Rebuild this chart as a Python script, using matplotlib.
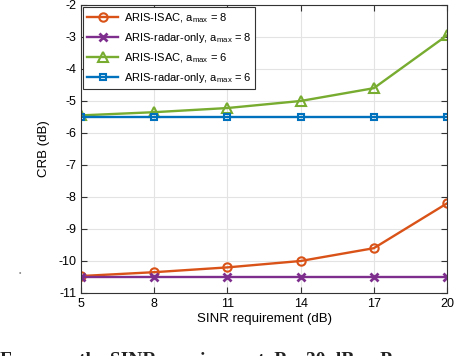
import matplotlib
matplotlib.use("Agg")
import matplotlib.pyplot as plt

plt.rcParams['font.family'] = ['Liberation Sans', 'DejaVu Sans']
plt.rcParams['axes.unicode_minus'] = False
plt.rcParams['mathtext.fontset'] = 'custom'
plt.rcParams['mathtext.rm'] = 'Liberation Sans'

sinr = [5, 8, 11, 14, 17, 20]
isac_a8 = [-10.47, -10.35, -10.2, -10.0, -9.6, -8.2]
radar_a8 = [-10.5, -10.5, -10.5, -10.5, -10.5, -10.5]
isac_a6 = [-5.45, -5.35, -5.22, -5.0, -4.6, -2.95]
radar_a6 = [-5.5, -5.5, -5.5, -5.5, -5.5, -5.5]
labels = [r'ARIS-ISAC, a$_{\mathrm{max}}$ = 8',
          r'ARIS-radar-only, a$_{\mathrm{max}}$ = 8',
          r'ARIS-ISAC, a$_{\mathrm{max}}$ = 6',
          r'ARIS-radar-only, a$_{\mathrm{max}}$ = 6']

fig = plt.figure(figsize=(4.74, 3.56), dpi=100)
ax = fig.add_axes([0.171, 0.177, 0.772, 0.809])

ax.plot(sinr, isac_a8, color='#D95319', marker='o', ms=6, mfc='none', mew=1.5, lw=1.7, label=labels[0])
ax.plot(sinr, radar_a8, color='#7E2F8E', marker='x', ms=6, mew=2, lw=1.7, label=labels[1])
ax.plot(sinr, isac_a6, color='#77AC30', marker='^', ms=7, mfc='none', mew=1.5, lw=1.7, label=labels[2])
ax.plot(sinr, radar_a6, color='#0072BD', marker='s', ms=5, mfc='none', mew=1.5, lw=1.7, label=labels[3])

ax.set_xlim(5, 20)
ax.set_ylim(-11, -2)
ax.set_xticks(sinr)
ax.set_yticks(range(-11, -1))
ax.grid(True, color='#e3e3e3', lw=0.8)
ax.tick_params(direction='in', top=True, right=True, labelsize=9, length=4, color='#333333')
for s in ax.spines.values():
    s.set_color('#333333')
    s.set_linewidth(0.8)
ax.set_xlabel('SINR requirement (dB)', fontsize=9.5, labelpad=2)
ax.set_ylabel('CRB (dB)', fontsize=9.5, labelpad=6)

leg = ax.legend(loc='upper left', fontsize=8, fancybox=False, edgecolor='#333333',
                framealpha=1, handlelength=2.8, borderaxespad=0.2, labelspacing=0.55,
                borderpad=0.35, handletextpad=0.5)
leg.get_frame().set_linewidth(0.8)

fig.text(0.04, 0.228, '\u2022', fontsize=5, color='#888888')
fig.text(0.0, -0.012, 'F  versus the SINR requirement  P = 30 dBm, P',
         family=['Liberation Serif', 'DejaVu Serif'], fontsize=14, fontweight='bold',
         va='center', ha='left', color='#222222')

fig.savefig('out.png', dpi=100)
